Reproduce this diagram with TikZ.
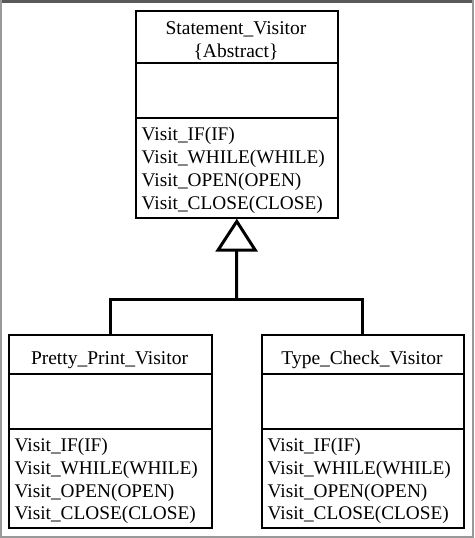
\documentclass[tikz,border=0pt]{standalone}
\usepackage{fontspec}
\setmainfont{Liberation Serif}
\usetikzlibrary{arrows.meta}
\tikzset{
  comp/.style={draw=black, line width=1.6pt, inner sep=0pt, anchor=north west, fill=white},
  txt/.style={inner sep=0pt, anchor=base west, font=\fontsize{19.3}{23}\selectfont},
  ctxt/.style={inner sep=0pt, anchor=base, font=\fontsize{19.5}{23}\selectfont},
  inh/.style={line width=3pt, draw=black},
}
\begin{document}
\begin{tikzpicture}[x=1pt,y=-1pt]
\useasboundingbox (0,0) rectangle (474,538);
\fill[white] (0,0) rectangle (474,538);
\fill[black!65] (0,0) rectangle (474,2.5);
\fill[black!40] (0,0) rectangle (2,538);
\fill[black!40] (472,0) rectangle (474,538);
\fill[black!40] (0,536) rectangle (474,538);

% Statement_Visitor
\node[comp, minimum width=202pt, minimum height=52pt] (sv-name) at (135,10) {};
\node[comp, minimum width=202pt, minimum height=55pt] (sv-attr) at (135,62) {};
\node[comp, minimum width=202pt, minimum height=100pt] (sv-ops) at (135,117) {};
\node[ctxt] (sv-t1) at (236,34.3) {Statement\_Visitor};
\node[ctxt] (sv-t2) at (236,57.5) {\{Abstract\}};
\node[txt] (sv-m1) at (141.5,140) {Visit\_IF(IF)};
\node[txt] (sv-m2) at (141.5,163.3) {Visit\_WHILE(WHILE)};
\node[txt] (sv-m3) at (141.5,186.6) {Visit\_OPEN(OPEN)};
\node[txt] (sv-m4) at (141.5,209.5) {Visit\_CLOSE(CLOSE)};

% Pretty_Print_Visitor
\node[comp, minimum width=203pt, minimum height=39pt] (pp-name) at (8,334) {};
\node[comp, minimum width=203pt, minimum height=55pt] (pp-attr) at (8,373) {};
\node[comp, minimum width=203pt, minimum height=99pt] (pp-ops) at (8,428) {};
\node[ctxt] (pp-t1) at (109.5,364.5) {Pretty\_Print\_Visitor};
\node[txt] (pp-m1) at (14.5,451) {Visit\_IF(IF)};
\node[txt] (pp-m2) at (14.5,474) {Visit\_WHILE(WHILE)};
\node[txt] (pp-m3) at (14.5,497) {Visit\_OPEN(OPEN)};
\node[txt] (pp-m4) at (14.5,519.5) {Visit\_CLOSE(CLOSE)};

% Type_Check_Visitor
\node[comp, minimum width=202pt, minimum height=39pt] (tc-name) at (261,334) {};
\node[comp, minimum width=202pt, minimum height=55pt] (tc-attr) at (261,373) {};
\node[comp, minimum width=202pt, minimum height=99pt] (tc-ops) at (261,428) {};
\node[ctxt] (tc-t1) at (362,364.5) {Type\_Check\_Visitor};
\node[txt] (tc-m1) at (267.5,451) {Visit\_IF(IF)};
\node[txt] (tc-m2) at (267.5,474) {Visit\_WHILE(WHILE)};
\node[txt] (tc-m3) at (267.5,497) {Visit\_OPEN(OPEN)};
\node[txt] (tc-m4) at (267.5,519.5) {Visit\_CLOSE(CLOSE)};

% inheritance
\coordinate (join) at (236.5,299);
\draw[inh] (pp-name.north) |- (join) -| (tc-name.north);
\draw[inh, -{Triangle[open, length=33pt, width=42pt, line join=miter]}] (join) -- (sv-ops.south);
\end{tikzpicture}
\end{document}
